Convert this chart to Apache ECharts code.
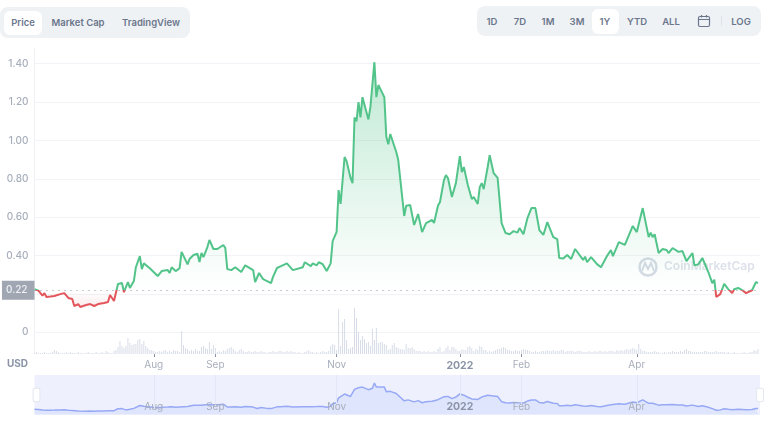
<!DOCTYPE html>
<html>
<head>
<meta charset="utf-8">
<script src="https://cdn.jsdelivr.net/npm/echarts@6/dist/echarts.min.js"></script>
<style>
    html, body { margin: 0; padding: 0; background: #fff; }
    #main { position: absolute; left: 0; top: 0; width: 768px; height: 422px; }
    .bar { position: absolute; background: #eff2f5; border-radius: 8px; }
    .on { position: absolute; background: #fff; border-radius: 6px; }
    .btn { position: absolute; transform: translateX(-50%); font: 600 9.5px Inter, sans-serif; color: #6b768c; white-space: nowrap; }
</style>
</head>
<body>
<div id="main"></div>
<div class="bar" style="left:0;top:7px;width:190px;height:31px"></div>
<div class="on" style="left:4px;top:11px;width:38px;height:24px"></div>
<span class="btn" style="left:23px;top:17px">Price</span>
<span class="btn" style="left:78px;top:17px">Market Cap</span>
<span class="btn" style="left:151px;top:17px">TradingView</span>
<div class="bar" style="left:477px;top:6px;width:284px;height:30px"></div>
<div class="on" style="left:592px;top:9px;width:27px;height:25px"></div>
<span class="btn" style="left:492px;top:16px">1D</span>
<span class="btn" style="left:520px;top:16px">7D</span>
<span class="btn" style="left:548px;top:16px">1M</span>
<span class="btn" style="left:577px;top:16px">3M</span>
<span class="btn" style="left:605px;top:16px">1Y</span>
<span class="btn" style="left:637px;top:16px">YTD</span>
<span class="btn" style="left:671px;top:16px">ALL</span>
<svg style="position:absolute;left:697px;top:14px" width="14" height="14" viewBox="0 0 14 14" fill="none" stroke="#6b768c" stroke-width="1.2">
    <rect x="1.5" y="2.5" width="11" height="10" rx="1.5"></rect>
    <path d="M1.5 5.5H12.5M4.5 1V3.5M9.5 1V3.5"></path>
</svg>
<div style="position:absolute;left:721px;top:16px;width:1px;height:10px;background:#dfe3ea"></div>
<span class="btn" style="left:741px;top:16px">LOG</span>

<script>
    // days counted from 2 Jun 2021
    var priceDays = [
        0,2,4,5,6,8,10,11,13,15,17,19,20,22,23,26,28,30,32,33,35,37,38,40,42,44,45,46,47,48,
        50,51,53,54,55,58,62,64,65,67,68,69,71,73,74,77,78,80,82,83,84,85,87,88,90,91,92,95,96,97,
        99,101,102,104,106,110,111,112,113,114,115,117,119,120,122,123,124,125,127,130,135,136,139,140,142,143,145,146,147,149,
        150,151,152,153,154,156,157,159,160,161,162,163,164,165,168,169,170,171,172,173,176,177,178,179,182,183,186,187,188,189,
        191,193,195,197,198,200,201,203,204,206,207,208,210,212,214,215,216,218,219,220,221,223,224,225,226,228,229,231,233,235,
        236,237,239,241,243,244,246,248,250,252,254,256,258,259,261,263,264,265,266,267,268,270,272,273,276,277,278,280,283,285,
        288,290,291,294,295,297,301,303,306,309,310,311,312,314,316,318,319,321,324,326,328,331,332,334,335,336,339,340,341,342,
        343,345,347,349,350,351,352,354,356,358,359,361,363,364
    ];
    var prices = [
        .225,.218,.192,.205,.185,.187,.19,.18,.2,.205,.18,.175,.138,.148,.133,.143,.148,.138,.148,.138,.154,.159,.195,.164,.253,.258,.21,.2,.263,.232,
        .268,.34,.398,.33,.36,.335,.294,.32,.315,.325,.31,.34,.32,.335,.42,.355,.383,.404,.41,.367,.414,.393,.445,.482,.435,.445,.435,.456,.44,.33,
        .325,.34,.34,.315,.35,.325,.263,.263,.31,.31,.278,.268,.257,.29,.336,.33,.346,.336,.36,.325,.34,.366,.346,.36,.35,.366,.356,.366,.32,.36,
        .476,.466,.524,.742,.67,.914,.893,.805,.778,1.12,1.1,1.2,1.12,1.226,1.11,1.175,1.17,1.408,1.226,1.289,1.226,1.02,.98,1.034,.94,.898,.607,.66,.65,.664,
        .56,.617,.523,.57,.565,.586,.57,.66,.68,.794,.82,.805,.706,.778,.919,.836,.862,.768,.775,.695,.706,.67,.757,.778,.747,.862,.924,.83,.805,.57,
        .57,.518,.512,.528,.52,.544,.512,.596,.648,.648,.533,.508,.575,.565,.497,.486,.388,.393,.385,.378,.404,.383,.435,.435,.378,.395,.366,.393,.356,.34,
        .398,.43,.398,.471,.471,.456,.555,.523,.648,.497,.52,.497,.512,.414,.435,.43,.414,.44,.42,.424,.372,.414,.35,.355,.35,.388,.315,.31,.257,.275,
        .185,.2,.253,.226,.232,.205,.225,.232,.221,.205,.2,.22,.263,.257
    ];
    // one bar per day, in the picture's relative units
    var volumes = [
        1,2,1,1,1,2,1,1,1,2,4,3,2,1,1,1,2,1,2,1,1,1,2,1,1,1,1,2,1,1,1,2,1,1,2,1,3,2,1,1,
        3,4,7,13,8,6,8,16,11,9,10,10,14,15,10,13,8,6,4,4,
        3,2,2,3,2,3,4,2,3,2,4,3,3,2,
        23,9,6,5,3,4,3,5,3,3,7,8,6,5,12,5,9,6,
        2,3,2,4,3,5,6,7,5,3,2,4,5,3,2,2,3,2,2,
        3,2,2,3,2,2,1,2,2,3,2,2,3,3,2,2,3,2,3,2,2,1,2,1,1,
        2,3,4,2,2,1,2,1,2,3,2,2,3,8,10,9,4,
        45,8,32,35,14,5,6,7,46,36,22,14,18,15,11,12,8,25,14,26,11,12,12,10,9,4,5,9,
        11,7,6,5,5,4,10,6,6,7,5,3,3,3,2,3,2,3,2,2,
        3,2,5,7,2,3,6,8,4,7,7,5,3,3,5,4,4,7,8,6,
        3,5,4,8,7,4,4,2,3,2,3,4,5,5,6,7,6,4,4,3,
        3,4,3,3,4,5,4,4,3,2,2,3,2,2,3,3,3,4,3,3,4,3,3,3,4,4,2,3,3,3,
        3,2,3,3,3,2,2,2,3,2,2,3,2,3,3,2,3,2,3,3,3,2,4,3,4,3,4,5,4,5,
        6,5,4,10,5,3,3,2,2,2,2,3,2,2,1,1,2,1,2,2,3,2,2,2,3,2,4,5,3,3,
        2,2,2,2,2,2,3,3,2,2,2,2,3,2,2,2,2,1,2,1,1,2,1,1,1,1,2,1,1,2,2,4,3,5
    ];
    var tickDays = [60, 91, 152, 214, 245, 303];
    var tickLabels = ['Aug', 'Sep', 'Nov', '2022', 'Feb', 'Apr'];
    var priceTicks = [0, 0.2, 0.4, 0.6, 0.8, 1.0, 1.2, 1.4];
    var priceLabels = [0, 0.4, 0.6, 0.8, 1.0, 1.2, 1.4];
    var currentPrice = 0.22;

    var priceData = priceDays.map(function (d, i) { return [d, prices[i]]; });
    var volumeData = volumes.map(function (v, i) { return [i, v]; });

    var font = 'Inter, sans-serif';
    var green = '#52c48a';
    var red = '#e2565c';

    function dayLabel(value) {
        var label = tickLabels[tickDays.indexOf(value)];
        return label === '2022' ? '{b|2022}' : label;
    }
    var labelRich = {
        b: { fontFamily: font, fontSize: 10.5, fontWeight: 700, color: '#8a94a6' }
    };

    var mainChart = echarts.init(document.getElementById('main'), null, { renderer: 'canvas' });

    var option = {
        animation: false,
        backgroundColor: '#fff',
        grid: [
            { left: 34.5, right: 8, top: 48, height: 306 },
            { left: 34.5, right: 8, top: 308, height: 46 },
            { left: 34.5, right: 8, top: 375, height: 40, show: true, backgroundColor: '#eef1fd', borderWidth: 0 }
        ],
        xAxis: [
            { gridIndex: 0, type: 'value', min: 0, max: 365, show: false },
            {
                gridIndex: 1, type: 'value', min: 0, max: 365,
                splitLine: { show: false },
                axisLine: { show: false },
                axisTick: { show: true, length: 3, customValues: tickDays, lineStyle: { color: '#8a94a6' } },
                axisLabel: {
                    customValues: tickDays, formatter: dayLabel, rich: labelRich, margin: 6,
                    fontFamily: font, fontSize: 10, color: '#a7aebb'
                }
            },
            {
                gridIndex: 2, type: 'value', min: 0, max: 365, z: 5,
                axisLine: { show: false },
                axisTick: { show: false, customValues: tickDays },
                splitLine: { show: true, lineStyle: { color: '#e2e6f6' } },
                axisLabel: {
                    inside: true, customValues: tickDays, formatter: dayLabel, rich: labelRich, margin: 3,
                    fontFamily: font, fontSize: 10, color: '#a7aebb'
                }
            }
        ],
        yAxis: [
            {
                gridIndex: 0, type: 'value', min: -0.112, max: 1.482,
                axisLine: { show: true, lineStyle: { color: '#eff1f4' } },
                axisTick: { show: false, customValues: priceTicks },
                splitLine: { show: true, lineStyle: { color: '#f1f3f6' } },
                axisLabel: {
                    customValues: priceLabels, margin: 6, fontFamily: font, fontSize: 10, fontWeight: 500, color: '#a7aebb',
                    formatter: function (value) { return value === 0 ? '0' : value.toFixed(2); }
                }
            },
            { gridIndex: 1, type: 'value', min: 0, max: 46, show: false },
            { gridIndex: 2, type: 'value', min: -0.03, max: 1.77, show: false }
        ],
        visualMap: {
            show: false,
            seriesIndex: 0,
            dimension: 1,
            pieces: [
                { gte: -1, lt: currentPrice, color: red },
                { gte: currentPrice, lte: 2, color: green }
            ]
        },
        dataZoom: [{
            type: 'slider',
            xAxisIndex: [1],
            filterMode: 'none',
            start: 0,
            end: 100,
            left: 34.5,
            right: 8,
            top: 375,
            height: 40,
            showDataShadow: false,
            showDetail: false,
            brushSelect: false,
            moveHandleSize: 0,
            backgroundColor: 'transparent',
            borderColor: 'transparent',
            fillerColor: 'transparent',
            handleIcon: 'path://M2,0H6A2,2 0 0 1 8,2V14A2,2 0 0 1 6,16H2A2,2 0 0 1 0,14V2A2,2 0 0 1 2,0Z',
            handleSize: '34%',
            handleStyle: { color: '#fff', borderColor: '#e3e6ee', borderWidth: 1 }
        }],
        graphic: [
            {
                type: 'circle', z: 0, silent: true,
                shape: { cx: 648, cy: 267, r: 8.5 },
                style: { fill: 'transparent', stroke: '#d5dae6', lineWidth: 2.5 }
            },
            {
                type: 'polyline', z: 0, silent: true,
                shape: { points: [[642, 271], [645, 263], [648, 269], [651, 263], [654, 271]] },
                style: { fill: 'transparent', stroke: '#d5dae6', lineWidth: 2 }
            },
            {
                type: 'text', z: 0, silent: true, left: 664, top: 260,
                style: { text: 'CoinMarketCap', font: '600 12px ' + font, fill: '#dde1ea' }
            },
            {
                type: 'text', left: 7, top: 359,
                style: { text: 'USD', font: '700 10px ' + font, fill: '#8a94a6' }
            }
        ],
        series: [
            {
                type: 'line',
                xAxisIndex: 0,
                yAxisIndex: 0,
                data: priceData,
                showSymbol: false,
                silent: true,
                z: 3,
                lineStyle: { width: 2 },
                areaStyle: {
                    origin: currentPrice,
                    opacity: 1,
                    color: {
                        type: 'linear', global: true, x: 0, y: 64, x2: 0, y2: 312,
                        colorStops: [
                            { offset: 0, color: 'rgba(82,196,138,0.36)' },
                            { offset: 0.91, color: 'rgba(82,196,138,0)' },
                            { offset: 0.92, color: 'rgba(226,86,92,0)' },
                            { offset: 1, color: 'rgba(226,86,92,0.16)' }
                        ]
                    }
                },
                markLine: {
                    silent: true,
                    symbol: 'none',
                    animation: false,
                    data: [{ yAxis: currentPrice }],
                    lineStyle: { type: [1, 5], color: '#8f96a3', width: 1 },
                    label: {
                        position: 'start', distance: 0,
                        formatter: currentPrice.toFixed(2),
                        fontFamily: font, fontSize: 10, fontWeight: 500, color: '#eef0f4',
                        backgroundColor: '#a1a7b2',
                        align: 'right', padding: [5, 7, 4, 4]
                    }
                }
            },
            {
                type: 'bar',
                xAxisIndex: 1,
                yAxisIndex: 1,
                data: volumeData,
                barWidth: 1,
                silent: true,
                itemStyle: { color: '#d7dce7' }
            },
            {
                type: 'line',
                xAxisIndex: 2,
                yAxisIndex: 2,
                data: priceData,
                showSymbol: false,
                silent: true,
                lineStyle: { width: 1.5, color: '#97a9f5' },
                areaStyle: { color: '#dfe5fc', opacity: 1 }
            }
        ]
    };

    mainChart.setOption(option);
</script>
</body>
</html>
